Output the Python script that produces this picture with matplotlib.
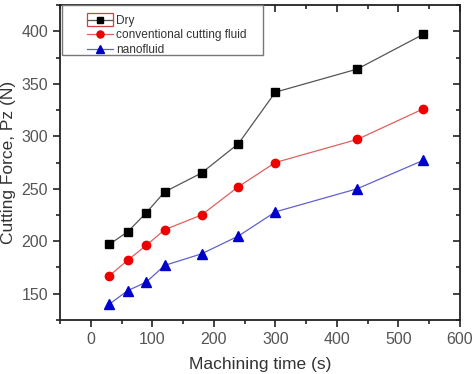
import matplotlib
matplotlib.use("Agg")
import matplotlib.pyplot as plt
from matplotlib.ticker import MultipleLocator
from matplotlib.patches import Rectangle

time_s = [30, 60, 90, 120, 180, 240, 300, 433, 540]
dry = [197, 209, 227, 247, 265, 293, 342, 364, 397]
conventional = [167, 182, 196, 211, 225, 252, 275, 297, 326]
nanofluid = [140, 153, 161, 177, 188, 205, 228, 250, 277]

labels = ["Dry", "conventional cutting fluid", "nanofluid"]

plt.rcParams['font.family'] = ['Liberation Sans', 'DejaVu Sans']

fig = plt.figure(figsize=(4.74, 3.74), dpi=100)
ax = fig.add_axes([0.1266, 0.1444, 0.8439, 0.8422])

ax.plot(time_s, dry, color='#555555', lw=0.9, marker='s', ms=5.6,
        mfc='black', mec='black', label=labels[0])
ax.plot(time_s, conventional, color='#e06060', lw=0.9, marker='o', ms=6,
        mfc='#ee0000', mec='#ee0000', label=labels[1])
ax.plot(time_s, nanofluid, color='#6060d0', lw=0.9, marker='^', ms=6.5,
        mfc='#0000cc', mec='#0000cc', label=labels[2])

ax.set_xlim(-50, 600)
ax.set_ylim(125, 425)
ax.xaxis.set_major_locator(MultipleLocator(100))
ax.xaxis.set_minor_locator(MultipleLocator(50))
ax.yaxis.set_major_locator(MultipleLocator(50))
ax.yaxis.set_minor_locator(MultipleLocator(25))

txt = '#333333'
ax.tick_params(axis='both', which='both', bottom=True, left=True,
               top=False, right=False, direction='out', labelsize=11.5,
               labelcolor='#555555', color='#222222', width=1.2)
ax.tick_params(which='major', length=5)
ax.tick_params(which='minor', length=3)

# inward mirror ticks on top and right
sec_x = ax.secondary_xaxis('top')
sec_x.xaxis.set_major_locator(MultipleLocator(100))
sec_x.xaxis.set_minor_locator(MultipleLocator(50))
sec_x.tick_params(which='both', direction='in', labeltop=False, width=1.2, color='#222222')
sec_x.tick_params(which='major', length=5)
sec_x.tick_params(which='minor', length=3)
sec_y = ax.secondary_yaxis('right')
sec_y.yaxis.set_major_locator(MultipleLocator(50))
sec_y.yaxis.set_minor_locator(MultipleLocator(25))
sec_y.tick_params(which='both', direction='in', labelright=False, width=1.2, color='#222222')
sec_y.tick_params(which='major', length=5)
sec_y.tick_params(which='minor', length=3)
for s in sec_x.spines.values():
    s.set_visible(False)
for s in sec_y.spines.values():
    s.set_visible(False)

for s in ax.spines.values():
    s.set_linewidth(1.3)
    s.set_color('#222222')

ax.set_xlabel("Machining time (s)", fontsize=12.5, color=txt, labelpad=7)
ax.set_ylabel("Cutting Force, Pz (N)", fontsize=12.5, color=txt, labelpad=4)

# legend frame drawn separately (Origin style with blank space at left)
ax.add_patch(Rectangle((0.006, 0.841), 0.5015, 0.159, transform=ax.transAxes,
                       fill=True, facecolor='white', edgecolor='#777777',
                       lw=1.0, zorder=4, clip_on=False))
ax.add_patch(Rectangle((0.0675, 0.933), 0.065, 0.041, transform=ax.transAxes,
                       fill=False, edgecolor='#d04040', lw=0.9, zorder=6))
leg = ax.legend(loc='upper left', bbox_to_anchor=(0.0675, 0.968), fontsize=8.6,
                frameon=False, borderpad=0.0, labelspacing=0.2,
                handlelength=2.2, handletextpad=0.25, borderaxespad=0.0,
                markerscale=0.85)
leg.set_zorder(5)
for t in leg.get_texts():
    t.set_color(txt)

fig.savefig("out.png", dpi=100)
